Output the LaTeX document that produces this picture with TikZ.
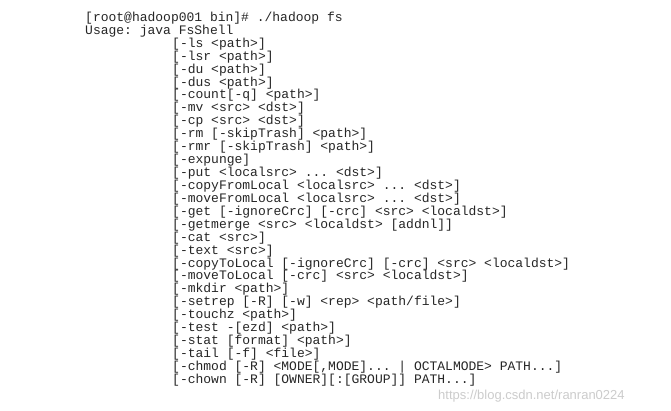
\documentclass[tikz,border=0pt]{standalone}
\usepackage{fontspec}
\setmonofont{Liberation Mono}
\setsansfont{Liberation Sans}
\begin{document}
\begin{tikzpicture}[x=1pt,y=-1pt,
  ln/.style={anchor=west,inner sep=0pt,font=\ttfamily\fontsize{13}{13}\selectfont,text=black!85}]
\useasboundingbox (0,0) rectangle (671,411);
\fill[white] (0,0) rectangle (671,411);
\newcommand\myln[2]{\node[ln] (c#1) at (172,{30.93+12.93*#1}) {#2};}
\node[ln] (l0) at (85,18) {[root@hadoop001 bin]\# ./hadoop fs};
\node[ln] (l1) at (85,30.93) {Usage: java FsShell};
\myln{1}{[-ls <path>]}
\myln{2}{[-lsr <path>]}
\myln{3}{[-du <path>]}
\myln{4}{[-dus <path>]}
\myln{5}{[-count[-q] <path>]}
\myln{6}{[-mv <src> <dst>]}
\myln{7}{[-cp <src> <dst>]}
\myln{8}{[-rm [-skipTrash] <path>]}
\myln{9}{[-rmr [-skipTrash] <path>]}
\myln{10}{[-expunge]}
\myln{11}{[-put <localsrc> ... <dst>]}
\myln{12}{[-copyFromLocal <localsrc> ... <dst>]}
\myln{13}{[-moveFromLocal <localsrc> ... <dst>]}
\myln{14}{[-get [-ignoreCrc] [-crc] <src> <localdst>]}
\myln{15}{[-getmerge <src> <localdst> [addnl]]}
\myln{16}{[-cat <src>]}
\myln{17}{[-text <src>]}
\myln{18}{[-copyToLocal [-ignoreCrc] [-crc] <src> <localdst>]}
\myln{19}{[-moveToLocal [-crc] <src> <localdst>]}
\myln{20}{[-mkdir <path>]}
\myln{21}{[-setrep [-R] [-w] <rep> <path/file>]}
\myln{22}{[-touchz <path>]}
\myln{23}{[-test -[ezd] <path>]}
\myln{24}{[-stat [format] <path>]}
\myln{25}{[-tail [-f] <file>]}
\myln{26}{[-chmod [-R] <MODE[,MODE]... | OCTALMODE> PATH...]}
\myln{27}{[-chown [-R] [OWNER][:[GROUP]] PATH...]}
\node[anchor=west,inner sep=0pt,font=\sffamily\fontsize{13}{13}\selectfont,text=black!20] (wm) at (438,396) {https://blog.csdn.net/ranran0224};
\end{tikzpicture}
\end{document}
